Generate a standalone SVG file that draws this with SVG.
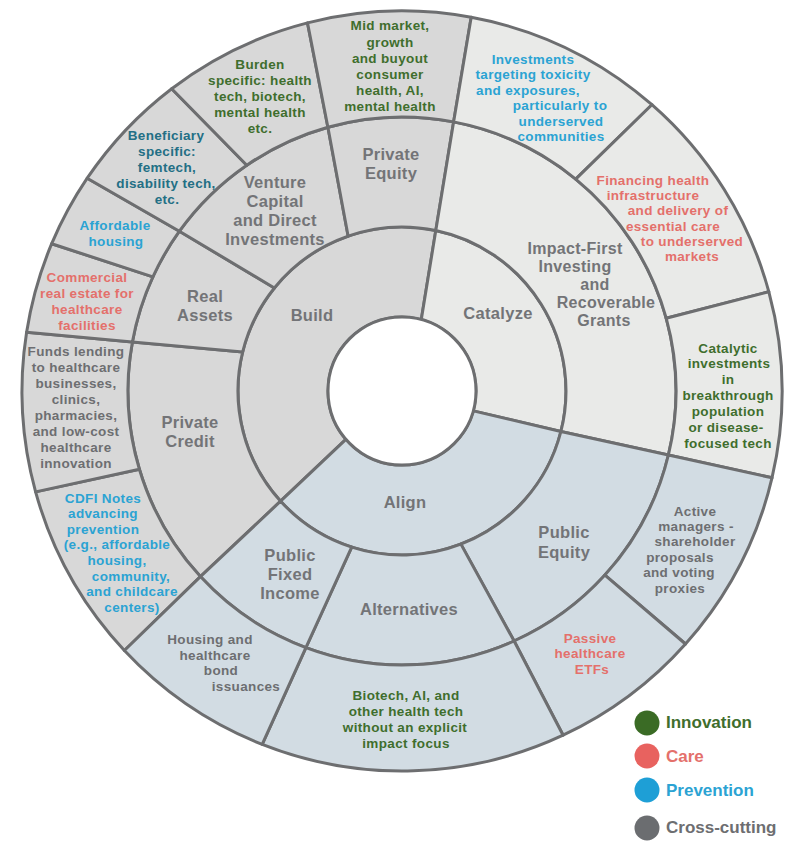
<svg xmlns="http://www.w3.org/2000/svg" width="800" height="851" viewBox="0 0 800 851">
<style>
.sec{stroke:#6d6e70;stroke-width:3;stroke-linejoin:round}
.b{fill:#d8d8d8}.c{fill:#e9eae8}.a{fill:#d2dce3}
text{font-family:"Liberation Sans",Arial,sans-serif;font-weight:700;text-anchor:middle}
.t{font-size:13.5px;letter-spacing:0.35px}
.lab{font-size:16.5px;fill:#737477;letter-spacing:0.3px}
.lab2{font-size:16px}
.gn{fill:#3f6e2d}.cr{fill:#e4706b}.pv{fill:#2ba3d3}.gy{fill:#6d6e71}.tl{fill:#236f85}
.leg{font-size:17px;text-anchor:start}
</style>
<rect width="800" height="851" fill="#ffffff"/>

<!-- Ring 1 -->
<g id="build">
<path class="sec b" d="M345.9,439.3 L280.6,501.2 A164,164 0 0 1 435.8,230.5 L421.3,319.6 A74,74 0 0 0 345.9,439.3 Z"/>
<text class="lab" x="312" y="320.5">Build</text>
</g>
<g id="catalyze">
<path class="sec c" d="M421.3,319.6 L435.8,230.5 A164,164 0 0 1 560.9,431.5 L473.3,410.9 A74,74 0 0 0 421.3,319.6 Z"/>
<text class="lab" x="498" y="318.5">Catalyze</text>
</g>
<g id="align">
<path class="sec a" d="M473.3,410.9 L560.9,431.5 A164,164 0 0 1 280.6,501.2 L345.9,439.3 A74,74 0 0 0 473.3,410.9 Z"/>
<text class="lab" x="405" y="507.5">Align</text>
</g>

<!-- Ring 2 -->
<g id="private-credit">
<path class="sec b" d="M280.6,501.2 L200.4,576.6 A274,274 0 0 1 132.4,341.9 L242.7,351.9 A164,164 0 0 0 280.6,501.2 Z"/>
<text class="lab"><tspan x="190" y="427.5">Private</tspan><tspan x="190" y="446.5">Credit</tspan></text>
</g>
<g id="real-assets">
<path class="sec b" d="M242.7,351.9 L132.4,341.9 A274,274 0 0 1 179.4,231.2 L274.4,288.0 A164,164 0 0 0 242.7,351.9 Z"/>
<text class="lab"><tspan x="205" y="301.5">Real</tspan><tspan x="205" y="320.5">Assets</tspan></text>
</g>
<g id="venture-capital">
<path class="sec b" d="M274.4,288.0 L179.4,231.2 A274,274 0 0 1 327.9,127.2 L348.1,236.1 A164,164 0 0 0 274.4,288.0 Z"/>
<text class="lab"><tspan x="275" y="187.5">Venture</tspan><tspan x="275" y="206.5">Capital</tspan><tspan x="275" y="225.5">and Direct</tspan><tspan x="275" y="244.5">Investments</tspan></text>
</g>
<g id="private-equity">
<path class="sec b" d="M348.1,236.1 L327.9,127.2 A274,274 0 0 1 453.6,121.9 L435.8,230.5 A164,164 0 0 0 348.1,236.1 Z"/>
<text class="lab"><tspan x="391" y="159.5">Private</tspan><tspan x="391" y="178.5">Equity</tspan></text>
</g>
<g id="impact-first">
<path class="sec c" d="M435.8,230.5 L453.6,121.9 A274,274 0 0 1 668.4,455.0 L560.9,431.5 A164,164 0 0 0 435.8,230.5 Z"/>
<text class="lab lab2"><tspan x="575" y="253.5">Impact-First</tspan><tspan x="575" y="271.5">Investing</tspan><tspan x="595" y="289.5">and</tspan><tspan x="606" y="307.5">Recoverable</tspan><tspan x="604" y="325.5">Grants</tspan></text>
</g>
<g id="public-equity">
<path class="sec a" d="M560.9,431.5 L668.4,455.0 A274,274 0 0 1 514.1,641.0 L460.9,544.1 A164,164 0 0 0 560.9,431.5 Z"/>
<text class="lab"><tspan x="564" y="537.5">Public</tspan><tspan x="564" y="557.5">Equity</tspan></text>
</g>
<g id="alternatives">
<path class="sec a" d="M460.9,544.1 L514.1,641.0 A274,274 0 0 1 305.9,647.6 L351.7,547.1 A164,164 0 0 0 460.9,544.1 Z"/>
<text class="lab" x="409" y="614.5">Alternatives</text>
</g>
<g id="public-fixed-income">
<path class="sec a" d="M351.7,547.1 L305.9,647.6 A274,274 0 0 1 200.4,576.6 L280.6,501.2 A164,164 0 0 0 351.7,547.1 Z"/>
<text class="lab"><tspan x="290" y="560.5">Public</tspan><tspan x="290" y="579.5">Fixed</tspan><tspan x="290" y="598.5">Income</tspan></text>
</g>

<!-- Ring 3 -->
<g id="cdfi-notes">
<path class="sec b" d="M200.4,576.6 L124.4,650.5 A380,380 0 0 1 35.6,491.9 L139.4,469.3 A274,274 0 0 0 200.4,576.6 Z"/>
<text class="t pv"><tspan x="103" y="502.5">CDFI Notes</tspan><tspan x="103" y="518.1">advancing</tspan><tspan x="103" y="533.7">prevention</tspan><tspan x="117" y="549.3">(e.g., affordable</tspan><tspan x="117" y="564.9">housing,</tspan><tspan x="131" y="580.5">community,</tspan><tspan x="132" y="596.1">and childcare</tspan><tspan x="132" y="611.7">centers)</tspan></text>
</g>
<g id="funds-lending">
<path class="sec b" d="M139.4,469.3 L35.6,491.9 A380,380 0 0 1 26.6,332.3 L132.4,341.9 A274,274 0 0 0 139.4,469.3 Z"/>
<text class="t gy"><tspan x="76" y="355.5">Funds lending</tspan><tspan x="76" y="371.5">to healthcare</tspan><tspan x="76" y="387.5">businesses,</tspan><tspan x="76" y="403.5">clinics,</tspan><tspan x="76" y="419.5">pharmacies,</tspan><tspan x="76" y="435.5">and low-cost</tspan><tspan x="76" y="451.5">healthcare</tspan><tspan x="76" y="467.5">innovation</tspan></text>
</g>
<g id="commercial-real-estate">
<path class="sec b" d="M132.4,341.9 L26.6,332.3 A380,380 0 0 1 51.7,243.7 L152.9,276.9 A274,274 0 0 0 132.4,341.9 Z"/>
<text class="t cr"><tspan x="87" y="281.5">Commercial</tspan><tspan x="87" y="297.5">real estate for</tspan><tspan x="87" y="313.5">healthcare</tspan><tspan x="87" y="329.5">facilities</tspan></text>
</g>
<g id="affordable-housing">
<path class="sec b" d="M152.9,276.9 L51.7,243.7 A380,380 0 0 1 87.2,178.2 L179.4,231.2 A274,274 0 0 0 152.9,276.9 Z"/>
<text class="t pv"><tspan x="115" y="230">Affordable</tspan><tspan x="116" y="246">housing</tspan></text>
</g>
<g id="beneficiary-specific">
<path class="sec b" d="M179.4,231.2 L87.2,178.2 A380,380 0 0 1 171.7,88.7 L246.8,165.2 A274,274 0 0 0 179.4,231.2 Z"/>
<text class="t tl"><tspan x="166" y="139.5">Beneficiary</tspan><tspan x="167" y="155.5">specific:</tspan><tspan x="167" y="171.5">femtech,</tspan><tspan x="166" y="187.5">disability tech,</tspan><tspan x="167" y="203.5">etc.</tspan></text>
</g>
<g id="burden-specific">
<path class="sec b" d="M246.8,165.2 L171.7,88.7 A380,380 0 0 1 307.5,22.9 L327.9,127.2 A274,274 0 0 0 246.8,165.2 Z"/>
<text class="t gn"><tspan x="260" y="68.5">Burden</tspan><tspan x="260" y="84.5">specific: health</tspan><tspan x="260" y="100.5">tech, biotech,</tspan><tspan x="260" y="116.5">mental health</tspan><tspan x="260" y="132.5">etc.</tspan></text>
</g>
<g id="mid-market">
<path class="sec b" d="M327.9,127.2 L307.5,22.9 A380,380 0 0 1 471.2,17.3 L453.6,121.9 A274,274 0 0 0 327.9,127.2 Z"/>
<text class="t gn"><tspan x="390" y="29.5">Mid market,</tspan><tspan x="390" y="46.5">growth</tspan><tspan x="390" y="62.5">and buyout</tspan><tspan x="390" y="78.5">consumer</tspan><tspan x="390" y="94.5">health, AI,</tspan><tspan x="390" y="110.5">mental health</tspan></text>
</g>
<g id="investments-toxicity">
<path class="sec c" d="M453.6,121.9 L471.2,17.3 A380,380 0 0 1 651.9,104.7 L575.7,179.1 A274,274 0 0 0 453.6,121.9 Z"/>
<text class="t pv"><tspan x="533" y="63.5">Investments</tspan><tspan x="533" y="79">targeting toxicity</tspan><tspan x="528" y="94.5">and exposures,</tspan><tspan x="560" y="110">particularly to</tspan><tspan x="561" y="125.5">underserved</tspan><tspan x="561" y="141">communities</tspan></text>
</g>
<g id="financing-health">
<path class="sec c" d="M575.7,179.1 L651.9,104.7 A380,380 0 0 1 768.8,291.7 L666.2,318.2 A274,274 0 0 0 575.7,179.1 Z"/>
<text class="t cr"><tspan x="653" y="185">Financing health</tspan><tspan x="653" y="200.2">infrastructure</tspan><tspan x="678" y="215.4">and delivery of</tspan><tspan x="673" y="230.6">essential care</tspan><tspan x="692" y="245.8">to underserved</tspan><tspan x="692" y="261">markets</tspan></text>
</g>
<g id="catalytic-investments">
<path class="sec c" d="M666.2,318.2 L768.8,291.7 A380,380 0 0 1 772.0,477.8 L668.4,455.0 A274,274 0 0 0 666.2,318.2 Z"/>
<text class="t gn"><tspan x="728" y="352.5">Catalytic</tspan><tspan x="729" y="368.3">investments</tspan><tspan x="728" y="384.2">in</tspan><tspan x="728" y="400">breakthrough</tspan><tspan x="728" y="415.8">population</tspan><tspan x="726" y="431.7">or disease-</tspan><tspan x="728" y="447.5">focused tech</tspan></text>
</g>
<g id="active-managers">
<path class="sec a" d="M668.4,455.0 L772.0,477.8 A380,380 0 0 1 685.5,644.0 L604.9,575.1 A274,274 0 0 0 668.4,455.0 Z"/>
<text class="t gy"><tspan x="695" y="515.5">Active</tspan><tspan x="696" y="530.9">managers -</tspan><tspan x="695" y="546.3">shareholder</tspan><tspan x="680" y="561.7">proposals</tspan><tspan x="679" y="577.1">and voting</tspan><tspan x="680" y="592.5">proxies</tspan></text>
</g>
<g id="passive-etfs">
<path class="sec a" d="M604.9,575.1 L685.5,644.0 A380,380 0 0 1 563.1,735.2 L514.1,641.0 A274,274 0 0 0 604.9,575.1 Z"/>
<text class="t cr"><tspan x="590" y="642.5">Passive</tspan><tspan x="590" y="658">healthcare</tspan><tspan x="592" y="673.5">ETFs</tspan></text>
</g>
<g id="biotech-ai">
<path class="sec a" d="M514.1,641.0 L563.1,735.2 A380,380 0 0 1 262.2,744.4 L305.9,647.6 A274,274 0 0 0 514.1,641.0 Z"/>
<text class="t gn"><tspan x="406" y="699.5">Biotech, AI, and</tspan><tspan x="406" y="715.5">other health tech</tspan><tspan x="405" y="731.5">without an explicit</tspan><tspan x="406" y="747.5">impact focus</tspan></text>
</g>
<g id="housing-bonds">
<path class="sec a" d="M305.9,647.6 L262.2,744.4 A380,380 0 0 1 124.4,650.5 L200.4,576.6 A274,274 0 0 0 305.9,647.6 Z"/>
<text class="t gy"><tspan x="210" y="644">Housing and</tspan><tspan x="215" y="659.5">healthcare</tspan><tspan x="221" y="675">bond</tspan><tspan x="246" y="690.5">issuances</tspan></text>
</g>

<g id="center">
<circle cx="402" cy="391" r="74" fill="#ffffff" stroke="#6d6e70" stroke-width="3"/>
</g>

<g id="legend">
<circle cx="647" cy="723" r="12.5" fill="#3a6b25"/>
<text class="leg" x="666" y="728" fill="#3f6e2d">Innovation</text>
<circle cx="647" cy="756" r="12.5" fill="#e8625f"/>
<text class="leg" x="666" y="762" fill="#e4706b">Care</text>
<circle cx="647" cy="790" r="12.5" fill="#1e9fd6"/>
<text class="leg" x="666" y="796" fill="#2ba3d3">Prevention</text>
<circle cx="647" cy="828" r="12.5" fill="#6b6d70"/>
<text class="leg" x="666" y="833" fill="#6d6e71">Cross-cutting</text>
</g>
</svg>
